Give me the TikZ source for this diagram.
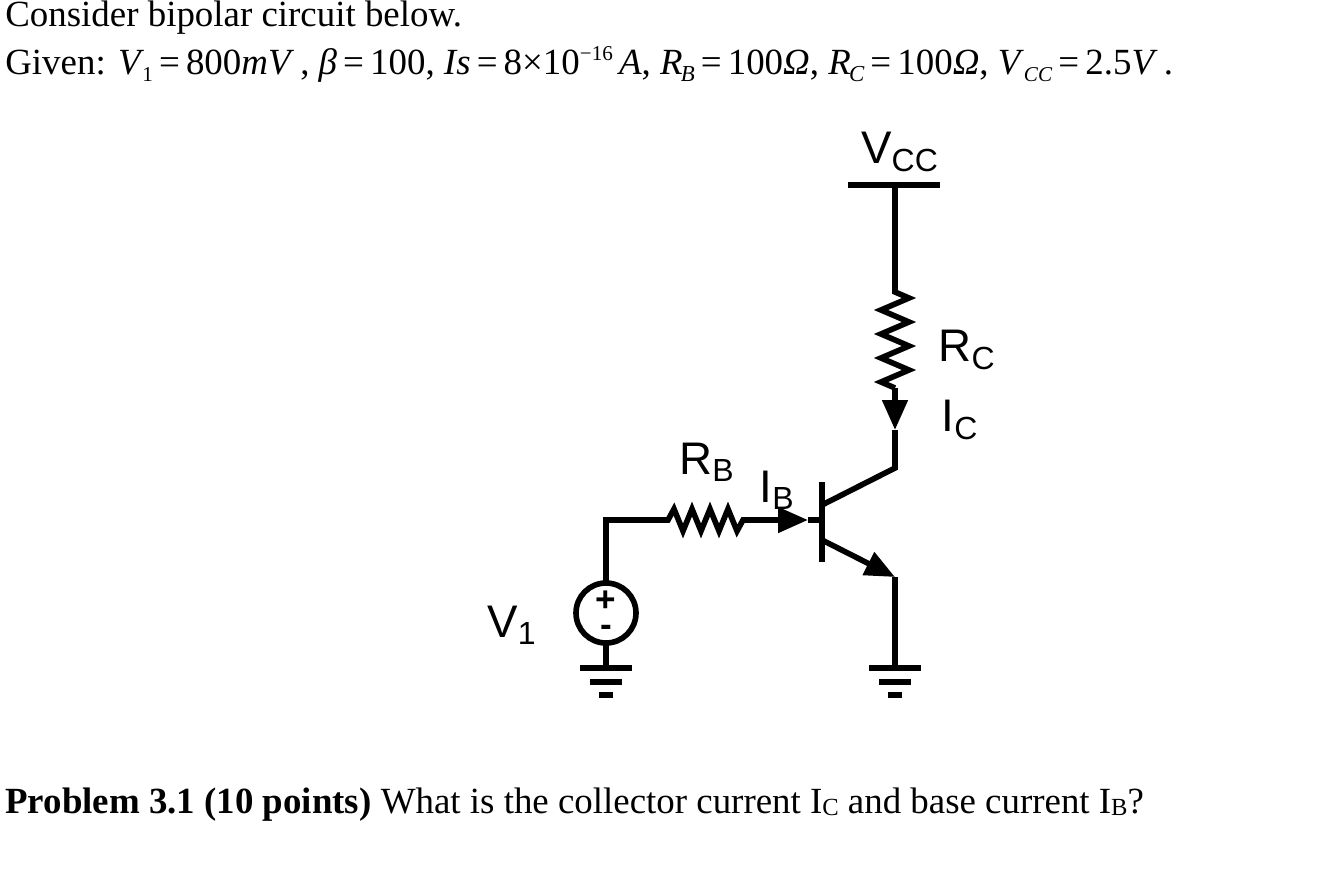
\documentclass[tikz,border=0pt]{standalone}
\usepackage{fontspec}
\setmainfont{Liberation Serif}
\newfontfamily\arial{Liberation Sans}
\usetikzlibrary{arrows.meta}
\begin{document}
\begin{tikzpicture}[x=0.02cm,y=-0.02cm,
  wire/.style={line width=3.2pt,line join=miter},
  lbl/.style={font=\arial\fontsize{26}{30}\selectfont,inner sep=0pt},
  txt/.style={font=\fontsize{21}{25}\selectfont,anchor=west,inner sep=0pt},
  tip/.style={-{Triangle[length=17pt,width=14pt]}}]
\useasboundingbox (0,0) rectangle (1336,882);
\node[txt] (t1) at (5,18) {Consider bipolar circuit below.};
\node[txt] (t2) at (5,64) {Given: \textit{V}\kern-1pt\raisebox{-4pt}{\fontsize{12}{12}\selectfont 1}\,=\,800\textit{mV}\,, \textit{β}\,=\,100, \textit{Is}\,=\,8×10\raisebox{8pt}{\fontsize{12}{12}\selectfont −16}\,\textit{A}, \textit{R\kern-1pt\raisebox{-4pt}{\fontsize{13}{13}\selectfont B}}\,=\,100\textit{Ω}, \textit{R\kern-1pt\raisebox{-4pt}{\fontsize{13}{13}\selectfont C}}\,=\,100\textit{Ω}, \textit{V}\raisebox{-4pt}{\fontsize{12}{12}\selectfont\textit{CC}}\,=\,2.5\textit{V}\,.};
\node[txt] (t3) at (5,805) {\textbf{Problem 3.1 (10 points)} What is the collector current I\raisebox{-1pt}{\fontsize{14}{14}\selectfont C} and base current I\raisebox{-1pt}{\fontsize{14}{14}\selectfont B}?};
% coordinates
\coordinate (vcc) at (895,185);
\coordinate (rct) at (895,292);
\coordinate (rcb) at (895,388);
\coordinate (ic) at (895,430);
\coordinate (col) at (895,468);
\coordinate (bc) at (822,505);
\coordinate (be) at (822,540);
\coordinate (em) at (895,577);
\coordinate (eg) at (895,668);
\coordinate (src) at (606,613);
\coordinate (corner) at (606,520);
\coordinate (rbl) at (668,520);
\coordinate (rbr) at (752,520);
\coordinate (ib) at (808,520);
\coordinate (base) at (822,520);
\coordinate (sg) at (606,668);
% Vcc
\draw[wire] (848,185) -- (940,185);
\node[lbl] (vl) at (900,152) {V\textsubscript{CC}};
\draw[wire] (vcc) -- (rct) -- ++(14,6) -- ++(-28,12) -- ++(28,12) -- ++(-28,12) -- ++(28,12) -- ++(-28,12) -- ++(28,12) -- ++(-28,12) -- ++(14,6) -- (rcb);
\draw[wire] (rcb) -- (895,402);
\draw[wire,tip] (895,400) -- (ic);
\draw[wire] (ic) -- (col) -- (bc);
\draw[wire] (822,482) -- (822,562);
\draw[wire,tip] (be) -- (em);
\draw[wire] (em) -- (eg);
\node[lbl] (rcl) at (967,350) {R\textsubscript{C}};
\node[lbl] (icl) at (960,420) {I\textsubscript{C}};
% base
\draw[wire] (src) ++(0,-30) -- (corner) -- (rbl) -- ++(6,-11) -- ++(9,22) -- ++(9,-22) -- ++(9,22) -- ++(9,-22) -- ++(9,22) -- ++(9,-22) -- ++(9,22) -- ++(6,-11) -- (rbr) -- (782,520);
\draw[wire,tip] (780,520) -- (ib);
\draw[wire] (ib) -- (base);
\node[lbl] (rbn) at (707,462) {R\textsubscript{B}};
\node[lbl] (ibn) at (777,490) {I\textsubscript{B}};
% source
\draw[wire] (src) circle (30);
\node[font=\arial\bfseries\fontsize{20}{20}\selectfont,inner sep=0pt] (plus) at (606,601) {+};
\node[font=\arial\bfseries\fontsize{20}{20}\selectfont,inner sep=0pt] (minus) at (606,631) {-};
\draw[wire] (606,643) -- (sg);
\node[lbl] (v1) at (512,625) {V\textsubscript{1}};
% grounds
\foreach \g in {sg,eg}{
  \draw[wire] (\g) ++(-26,0) -- ++(52,0);
  \draw[wire] (\g) ++(-16,14) -- ++(32,0);
  \draw[wire] (\g) ++(-7,27) -- ++(14,0);
}
\end{tikzpicture}
\end{document}
